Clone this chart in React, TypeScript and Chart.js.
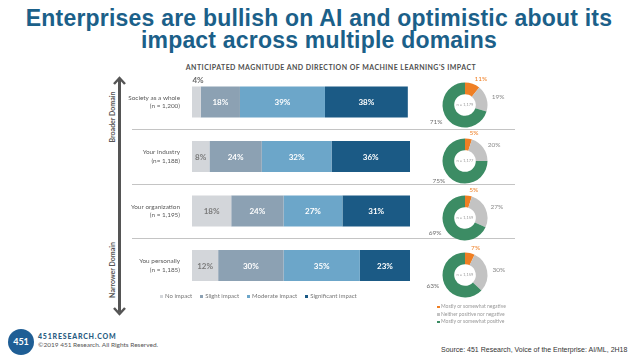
import React, { useEffect, useRef } from "react";
import { Chart, registerables } from "chart.js";
Chart.register(...registerables);

// ---------- data ----------
const categories = ["Society as a whole", "Your industry", "Your organization", "You personally"];
const sampleSizes = ["(n = 1,200)", "(n= 1,188)", "(n = 1,195)", "(n = 1,185)"];
const impactLevels = ["No impact", "Slight impact", "Moderate impact", "Significant impact"];
const noImpact = [4, 8, 18, 12];
const slightImpact = [18, 24, 24, 30];
const moderateImpact = [39, 32, 27, 35];
const significantImpact = [38, 36, 31, 23];

const directionLabels = ["Mostly or somewhat negative", "Neither positive nor negative", "Mostly or somewhat positive"];
const negative = [11, 5, 5, 7];
const neutral = [19, 20, 27, 30];
const positive = [71, 75, 69, 63];
const donutN = ["n = 1,179", "n = 1,177", "n = 1,159", "n = 1,159"];

// ---------- styles ----------
const barColors = ["#d3d6da", "#8ca1b3", "#6ca6c9", "#1b5a85"];
const barTextColors = ["#7a7a7a", "#ffffff", "#ffffff", "#ffffff"];
const donutColors = ["#ef7f24", "#c3c3c3", "#3c8c64"];
const donutTextColors = ["#ef7f24", "#8a8a8a", "#6f6f6f"];
const FONT = "Lato, 'Open Sans', sans-serif";

function BarChart() {
  const ref = useRef<HTMLCanvasElement>(null);
  useEffect(() => {
    const labelPlugin = {
      id: "barLabels",
      afterDatasetsDraw(chart: any) {
        const ctx = chart.ctx;
        ctx.save();
        ctx.font = `bold 8px ${FONT}`;
        ctx.textBaseline = "middle";
        ctx.textAlign = "center";
        chart.data.datasets.forEach((ds: any, di: number) => {
          const meta = chart.getDatasetMeta(di);
          meta.data.forEach((el: any, i: number) => {
            const v = ds.data[i];
            const p = el.getProps(["x", "y", "base", "height"], true);
            ctx.fillStyle = barTextColors[di];
            if (di === 0 && v < 6) {
              ctx.fillStyle = "#6a6a6a";
              ctx.fillText(`${v}%`, p.base + 6, p.y - p.height / 2 - 6);
            } else {
              ctx.fillText(`${v}%`, (p.x + p.base) / 2, p.y + 0.5);
            }
          });
        });
        ctx.restore();
      },
    };
    const sepPlugin = {
      id: "separators",
      beforeDatasetsDraw(chart: any) {
        const ctx = chart.ctx;
        const ys = chart.scales.y;
        ctx.save();
        ctx.strokeStyle = "#c4c4c4";
        ctx.lineWidth = 1;
        for (let i = 0; i < categories.length - 1; i++) {
          const yy = Math.round((ys.getPixelForValue(i) + ys.getPixelForValue(i + 1)) / 2) + 0.5;
          ctx.beginPath();
          ctx.moveTo(14, yy);
          ctx.lineTo(chart.width - 5, yy);
          ctx.stroke();
        }
        ctx.restore();
      },
    };
    const series = [noImpact, slightImpact, moderateImpact, significantImpact];
    const chart = new Chart(ref.current as HTMLCanvasElement, {
      type: "bar",
      data: {
        labels: categories.map((c, i) => [c, sampleSizes[i]]),
        datasets: series.map((d, i) => ({
          label: impactLevels[i],
          data: d,
          backgroundColor: barColors[i],
          borderWidth: 0,
          categoryPercentage: 1,
          barPercentage: 0.57,
        })),
      },
      options: {
        responsive: false,
        animation: false,
        indexAxis: "y",
        layout: { padding: { top: 14.7, bottom: 3.7, left: 0, right: 110 } },
        plugins: { legend: { display: false }, tooltip: { enabled: false } },
        scales: {
          x: { stacked: true, min: 0, max: 100, display: false },
          y: {
            stacked: true,
            grid: { display: false },
            border: { display: false },
            ticks: { font: { family: FONT, size: 6.4, lineHeight: 1.3 }, color: "#5a5a5a", padding: 4 },
            afterFit: (s: any) => {
              s.width = 74;
            },
          },
        },
      } as any,
      plugins: [labelPlugin, sepPlugin],
    });
    return () => chart.destroy();
  }, []);
  return <canvas ref={ref} width={402} height={245} style={{ position: "absolute", left: 118, top: 60 }} />;
}

function Donut({ idx, cx, cy }: { idx: number; cx: number; cy: number }) {
  const ref = useRef<HTMLCanvasElement>(null);
  useEffect(() => {
    const dl = {
      id: "donutLabels",
      afterDatasetsDraw(chart: any) {
        const ctx = chart.ctx;
        const meta = chart.getDatasetMeta(0);
        ctx.save();
        ctx.textBaseline = "middle";
        meta.data.forEach((arc: any, i: number) => {
          const p = arc.getProps(["x", "y", "startAngle", "endAngle", "outerRadius"], true);
          const mid = (p.startAngle + p.endAngle) / 2;
          const r = 28;
          const c = Math.cos(mid);
          const tx = p.x + c * r;
          const ty = p.y + Math.sin(mid) * r;
          ctx.textAlign = c >= 0 ? "left" : "right";
          ctx.font = `6.5px ${FONT}`;
          ctx.fillStyle = donutTextColors[i];
          ctx.fillText(`${chart.data.datasets[0].data[i]}%`, tx, ty);
        });
        const a = meta.data[0];
        ctx.textAlign = "center";
        ctx.font = `4px ${FONT}`;
        ctx.fillStyle = "#9a9a9a";
        ctx.fillText(donutN[idx], a.x, a.y);
        ctx.restore();
      },
    };
    const chart = new Chart(ref.current as HTMLCanvasElement, {
      type: "doughnut",
      data: {
        labels: directionLabels,
        datasets: [
          {
            data: [negative[idx], neutral[idx], positive[idx]],
            backgroundColor: donutColors,
            borderWidth: 0,
          },
        ],
      },
      options: {
        responsive: false,
        animation: false,
        cutout: "48%",
        layout: { padding: { left: 32.5, right: 32.5, top: 12.5, bottom: 12.5 } },
        plugins: { legend: { display: false }, tooltip: { enabled: false } },
      } as any,
      plugins: [dl],
    });
    return () => chart.destroy();
  }, [idx]);
  return <canvas ref={ref} width={110} height={70} style={{ position: "absolute", left: cx - 55, top: cy - 35 }} />;
}

const abs = (s: React.CSSProperties): React.CSSProperties => ({ position: "absolute", ...s });

export default function App() {
  return (
    <div style={abs({ left: 0, top: 0, width: 638, height: 359, overflow: "hidden", background: "#fff", fontFamily: FONT })}>
      <div
        style={abs({
          left: 0,
          top: 7,
          width: 638,
          textAlign: "center",
          fontFamily: "'Liberation Sans', Arial, sans-serif",
          fontWeight: 700,
          fontSize: 23,
          lineHeight: "22px",
          color: "#1b6089",
          letterSpacing: 0.2,
        })}
      >
        Enterprises are bullish on AI and optimistic about its
        <br />
        impact across multiple domains
      </div>
      <div
        style={abs({
          left: 81,
          top: 63,
          width: 500,
          textAlign: "center",
          fontWeight: 700,
          fontSize: 7,
          lineHeight: "9px",
          letterSpacing: 0.45,
          color: "#4f4f4f",
        })}
      >
        ANTICIPATED MAGNITUDE AND DIRECTION OF MACHINE LEARNING'S IMPACT
      </div>

      {/* domain arrow */}
      <svg width={20} height={250} style={abs({ left: 110, top: 74 })}>
        <line x1={9.5} y1={6} x2={9.5} y2={238} stroke="#555" strokeWidth={3} />
        <polyline points="4,10 9.5,4 15,10" fill="none" stroke="#555" strokeWidth={2.5} />
        <polyline points="4,234 9.5,240 15,234" fill="none" stroke="#555" strokeWidth={2.5} />
      </svg>
      <div
        style={abs({
          left: 112 - 40,
          top: 117 - 5,
          width: 80,
          height: 10,
          lineHeight: "10px",
          textAlign: "center",
          transform: "rotate(-90deg)",
          fontSize: 7,
          fontWeight: 700,
          color: "#555",
        })}
      >
        Broader Domain
      </div>
      <div
        style={abs({
          left: 112 - 40,
          top: 270 - 5,
          width: 80,
          height: 10,
          lineHeight: "10px",
          textAlign: "center",
          transform: "rotate(-90deg)",
          fontSize: 7,
          fontWeight: 700,
          color: "#555",
        })}
      >
        Narrower Domain
      </div>

      <BarChart />
      {categories.map((_, i) => (
        <Donut key={i} idx={i} cx={465} cy={104.5 + i * 56.8} />
      ))}

      {/* bar legend */}
      <div style={abs({ left: 160, top: 292, display: "flex", gap: 8, fontSize: 6, color: "#777", lineHeight: "8px", whiteSpace: "nowrap" })}>
        {impactLevels.map((l, i) => (
          <span key={l} style={{ display: "flex", alignItems: "center", gap: 2 }}>
            <span style={{ width: 3, height: 3, background: barColors[i], display: "inline-block" }} />
            {l}
          </span>
        ))}
      </div>

      {/* donut legend */}
      <div style={abs({ left: 437, top: 303, fontSize: 5, color: "#999", lineHeight: "7.5px", whiteSpace: "nowrap" })}>
        {directionLabels.map((l, i) => (
          <div key={l} style={{ display: "flex", alignItems: "center", gap: 1.5 }}>
            <span style={{ width: 2.5, height: 2.5, background: donutColors[i], display: "inline-block" }} />
            {l}
          </div>
        ))}
      </div>

      {/* footer */}
      <div
        style={abs({
          left: 8,
          top: 329,
          width: 26,
          height: 26,
          borderRadius: 13,
          background: "#1f5e95",
          color: "#fff",
          fontSize: 9,
          fontWeight: 700,
          textAlign: "center",
          lineHeight: "26px",
        })}
      >
        451
      </div>
      <div style={abs({ left: 38, top: 332, fontSize: 7, fontWeight: 900, letterSpacing: 0.8, color: "#2a5d82", lineHeight: "9px" })}>
        451RESEARCH.COM
      </div>
      <div style={abs({ left: 38, top: 341, fontSize: 6.5, color: "#555", lineHeight: "8px" })}>
        ©2019 451 Research. All Rights Reserved.
      </div>
      <div
        style={abs({
          left: 441,
          top: 345,
          fontFamily: "'Liberation Sans', Arial, sans-serif",
          fontSize: 7,
          color: "#333",
          lineHeight: "9px",
          whiteSpace: "nowrap",
        })}
      >
        Source: 451 Research, Voice of the Enterprise: AI/ML, 2H18
      </div>
    </div>
  );
}
